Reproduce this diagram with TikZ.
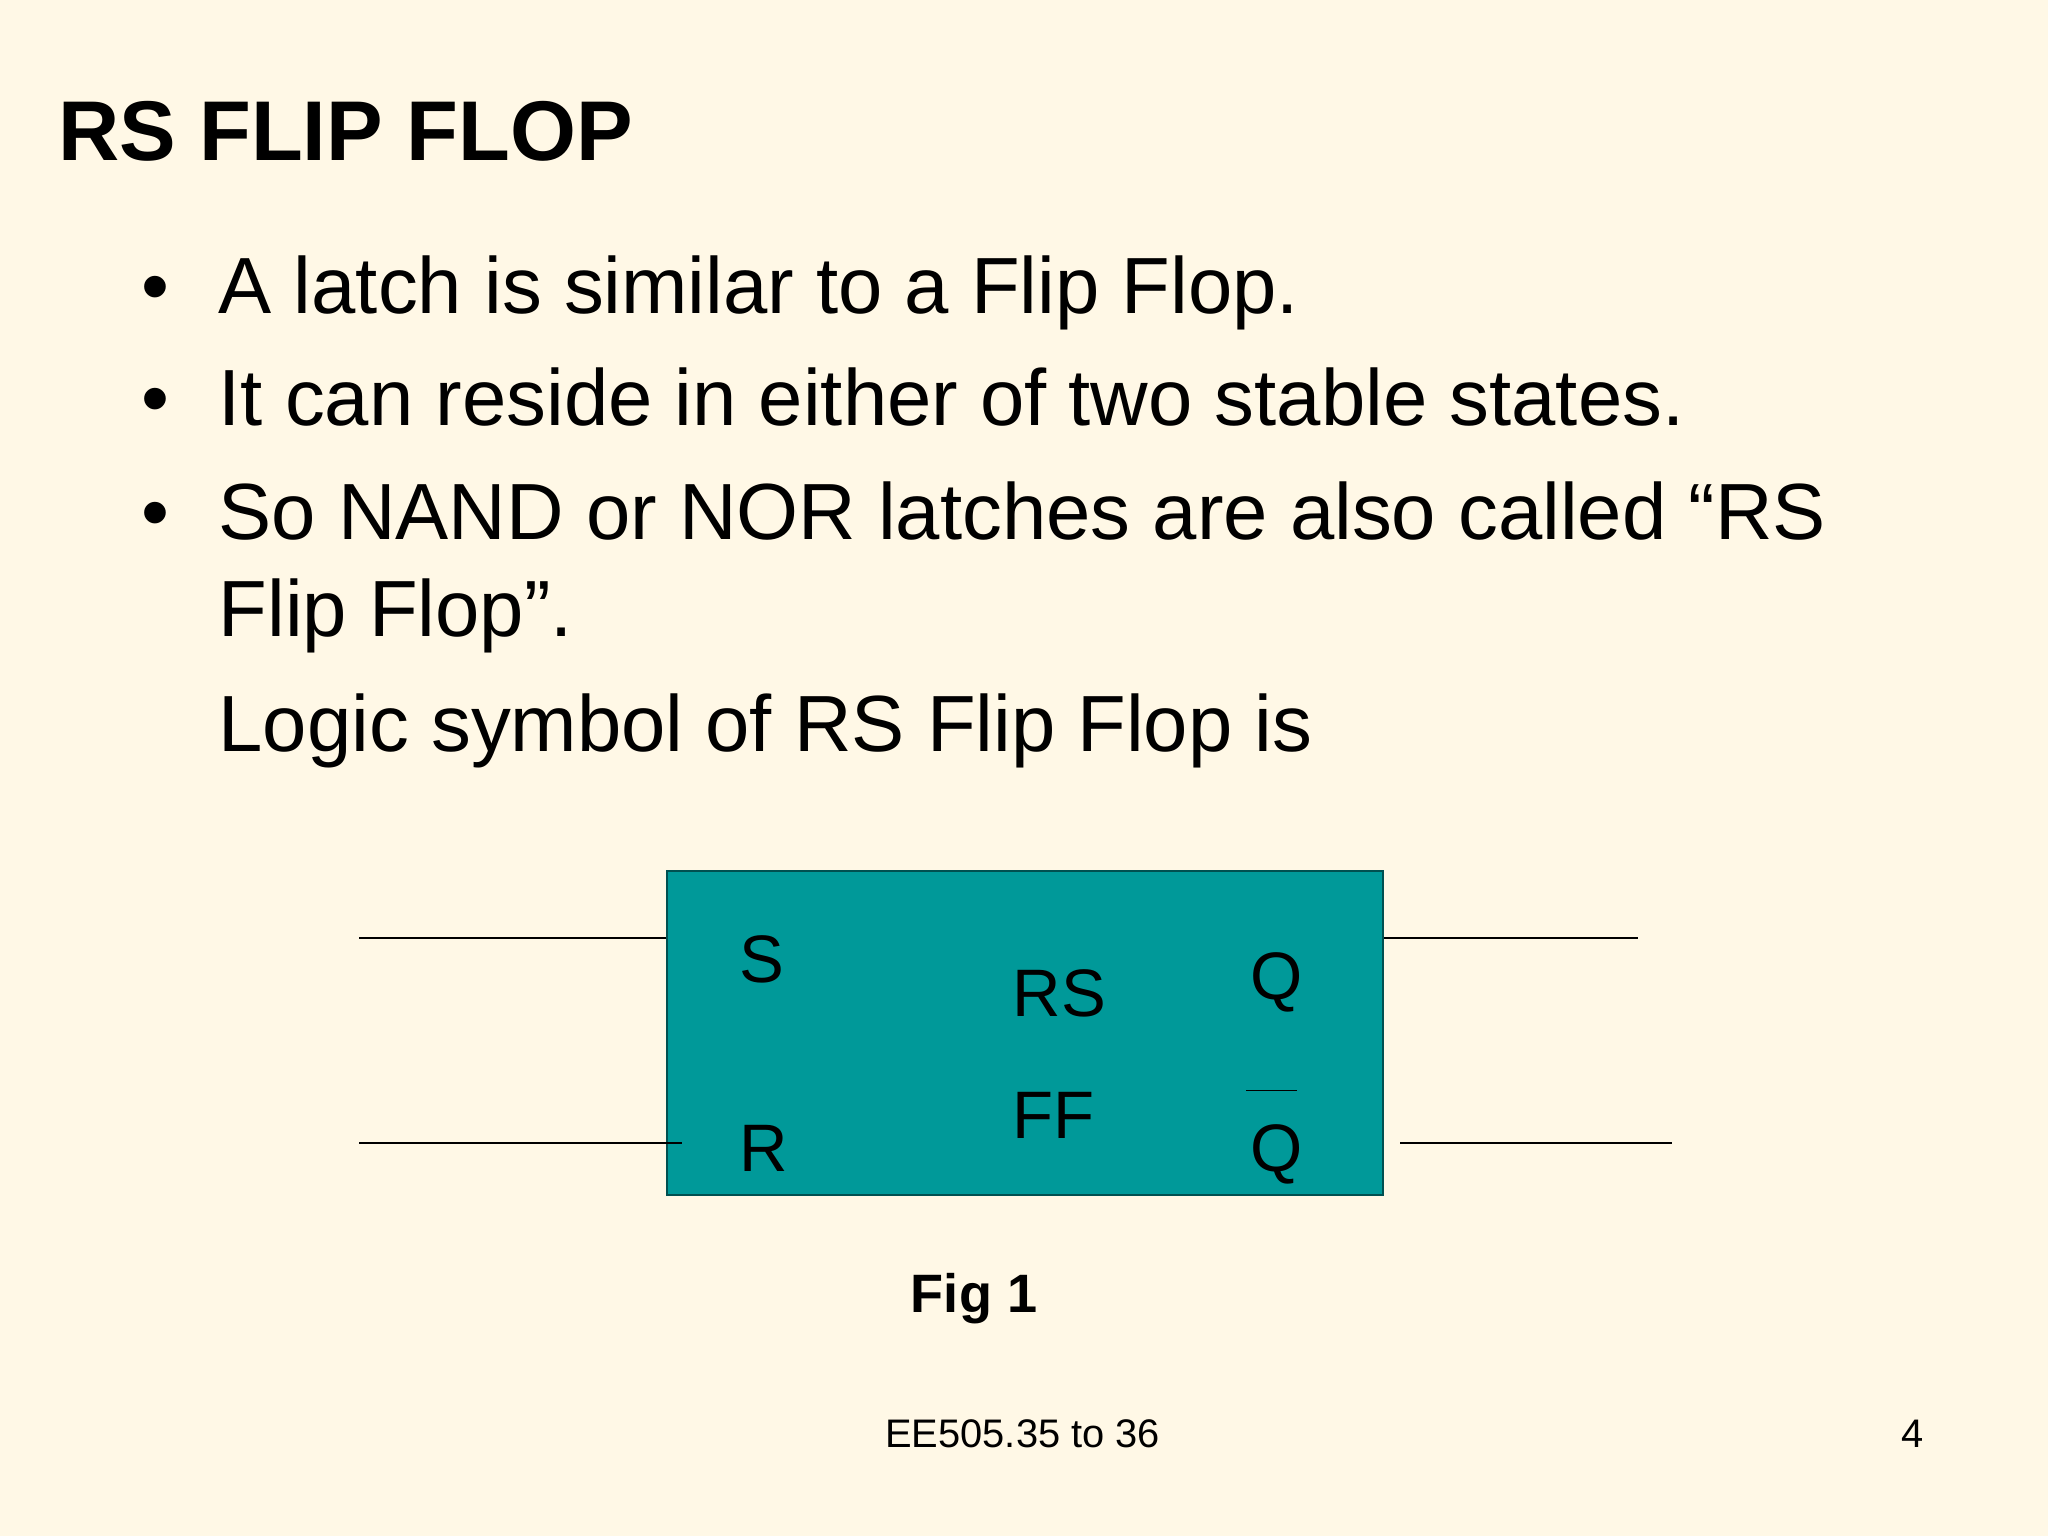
\documentclass[tikz,border=0pt]{standalone}
\usepackage{fontspec}
\setmainfont{Liberation Sans}
\begin{document}
\begin{tikzpicture}[x=0.459pt,y=-0.459pt,
  t/.style={anchor=base west,inner sep=0pt},
  body/.style={t,font=\fontsize{28}{33}\selectfont},
  lbl/.style={t,font=\fontsize{23.6}{28}\selectfont},
  wire/.style={draw=black,line width=0.6pt}]
\fill[fill={rgb,255:red,255;green,248;blue,230}] (0,0) rectangle (1568,1176);
\node[t,font=\fontsize{29.8}{34}\selectfont\bfseries] (title) at (44,123) {RS FLIP FLOP};
\foreach \y/\n in {240/b1,326/b2,413/b3}{\node[body] (\n) at (108,\y) {•};}
\node[body] (l1) at (167,240) {A latch is similar to a Flip Flop.};
\node[body] (l2) at (167,326) {It can reside in either of two stable states.};
\node[body] (l3) at (167,413) {So NAND or NOR latches are also called “RS};
\node[body] (l4) at (167,487) {Flip Flop”.};
\node[body] (l5) at (167,575) {Logic symbol of RS Flip Flop is};
\node[draw={rgb,255:red,0;green,80;blue,80},line width=0.8pt,fill={rgb,255:red,0;green,153;blue,153},minimum width=548*0.459pt,minimum height=248*0.459pt,anchor=north west,inner sep=0pt] (ff) at (510,666) {};
\node[lbl] (s) at (566,752) {S};
\node[lbl] (rs) at (775,778) {RS};
\node[lbl] (q) at (957,765) {Q};
\node[lbl] (f2) at (775,872) {FF};
\node[lbl] (r) at (566,897) {R};
\node[lbl] (qb) at (957,897) {Q};
\coordinate (o1) at (954,835); \coordinate (o2) at (993,835);
\draw[wire] (o1) -- (o2);
\coordinate (a1) at (275,718); \coordinate (a2) at (275,875); \coordinate (a3) at (522,875);
\coordinate (c1) at (1254,718); \coordinate (c2) at (1072,875); \coordinate (c3) at (1280,875);
\draw[wire] (a1) -- (ff.west |- a1);
\draw[wire] (a2) -- (a3);
\draw[wire] (ff.east |- c1) -- (c1);
\draw[wire] (c2) -- (c3);
\node[t,font=\fontsize{19}{23}\selectfont\bfseries] (fig) at (697,1005) {Fig 1};
\node[inner sep=0pt,anchor=base,font=\fontsize{14}{17}\selectfont] (foot) at (783,1108) {EE505.35 to 36};
\node[inner sep=0pt,anchor=base,font=\fontsize{14}{17}\selectfont] (pg) at (1464,1108) {4};
\end{tikzpicture}
\end{document}
